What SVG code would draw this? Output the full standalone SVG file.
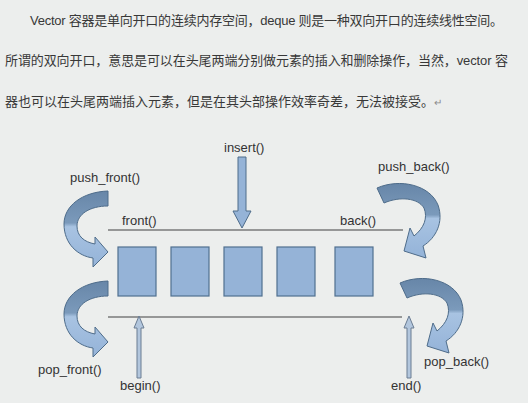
<svg xmlns="http://www.w3.org/2000/svg" width="528" height="403" viewBox="0 0 528 403">
<defs>
<style>
.para{font-family:"Liberation Sans","Noto Sans CJK SC",sans-serif;font-size:13px;fill:#383838}
.lbl{font-family:"Liberation Sans",Arial,sans-serif;font-size:13px;fill:#333}
.box{fill:#95b3d7;stroke:#50708f;stroke-width:1.2}
.rail{stroke:#7a7a7a;stroke-width:1.6;fill:none}
.curl{stroke:#4e6c8a;stroke-width:1;stroke-linejoin:round}
.thin{fill:#b2c6dd;stroke:#6a7c92;stroke-width:1}
</style>
<linearGradient id="gCurl" x1="0" y1="0" x2="0" y2="1">
<stop offset="0" stop-color="#6786a8"/>
<stop offset="0.42" stop-color="#7b9abb"/>
<stop offset="0.47" stop-color="#a8c3e2"/>
<stop offset="1" stop-color="#94b3d8"/>
</linearGradient>
</defs>
<rect width="528" height="403" fill="#eceeed"/>

<g id="paragraph">
<text class="para" x="30" y="25" textLength="473" lengthAdjust="spacing">Vector 容器是单向开口的连续内存空间，deque 则是一种双向开口的连续线性空间。</text>
<text class="para" x="5" y="65" textLength="503" lengthAdjust="spacing">所谓的双向开口，意思是可以在头尾两端分别做元素的插入和删除操作，当然，vector 容</text>
<text class="para" x="5" y="106">器也可以在头尾两端插入元素，但是在其头部操作效率奇差，无法被接受。<tspan fill="#8a8a8a" font-size="10">↵</tspan></text>
</g>

<g id="rails">
<line class="rail" x1="108" y1="230" x2="403" y2="230"/>
<line class="rail" x1="108" y1="317" x2="402" y2="317"/>
<text class="lbl" x="122" y="225">front()</text>
<text class="lbl" x="340" y="225">back()</text>
</g>

<g id="elements">
<rect class="box" x="118" y="247" width="38" height="49"/>
<rect class="box" x="171" y="247" width="38" height="49"/>
<rect class="box" x="224" y="247" width="38" height="49"/>
<rect class="box" x="277" y="247" width="38" height="49"/>
<rect class="box" x="335" y="247" width="38" height="49"/>
</g>

<g id="insert">
<text class="lbl" x="224" y="152">insert()</text>
<path class="curl" fill="#95b3d7" d="M238,157 L246,157 L246,211 L251,211 L242,228 L233,211 L238,211 Z"/>
</g>

<g id="push_front">
<text class="lbl" x="70" y="182">push_front()</text>
<path class="curl" fill="url(#gCurl)" d="M108,191 C82,192 64,206 64,224 C64,244 78,256 93,258 L93,267 L108,252 L95,237 L95,244 C84,242 77,236 77,226 C77,214 90,206 108,206 Z"/>
</g>

<g id="pop_front">
<text class="lbl" x="38" y="374">pop_front()</text>
<path class="curl" fill="url(#gCurl)" d="M108,281 C82,282 64,296 64,314 C64,334 78,346 93,348 L93,357 L108,342 L95,327 L95,334 C84,332 77,326 77,316 C77,304 90,296 108,296 Z"/>
</g>

<g id="push_back">
<text class="lbl" x="378" y="171">push_back()</text>
<path class="curl" fill="url(#gCurl)" d="M377,188 C400,178 430,185 438,205 C444,222 436,238 423,246 L426,258 L404,251 L410,228 L414,236 C424,228 428,218 424,208 C418,198 400,196 384,203 Z"/>
</g>

<g id="pop_back">
<text class="lbl" x="424" y="366">pop_back()</text>
<path class="curl" fill="url(#gCurl)" d="M400,283 C423,273 453,280 461,300 C467,317 459,333 446,341 L449,353 L427,346 L433,323 L437,331 C447,323 451,313 447,303 C441,293 423,291 407,298 Z"/>
</g>

<g id="begin">
<text class="lbl" x="120" y="390">begin()</text>
<path class="thin" d="M137,378 L141,378 L141,328 L144,328 L139,316 L134,328 L137,328 Z"/>
</g>

<g id="end">
<text class="lbl" x="391" y="390">end()</text>
<path class="thin" d="M407,378 L411,378 L411,328 L414,328 L409,316 L404,328 L407,328 Z"/>
</g>
</svg>
